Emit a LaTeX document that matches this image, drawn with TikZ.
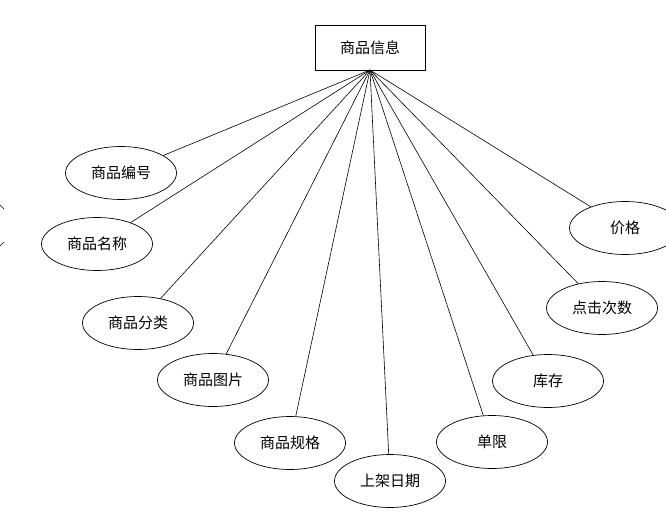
\documentclass[tikz,border=0pt]{standalone}
\usepackage{fontspec}
\setmainfont{Noto Sans CJK SC}
\usetikzlibrary{shapes.geometric}
\begin{document}
\begin{tikzpicture}[x=1pt,y=-1pt,
  attr/.style={draw, ellipse, line width=0.7pt, minimum width=111pt, minimum height=53pt, inner sep=0pt, font=\fontsize{15}{18}\selectfont},
  ent/.style={draw, rectangle, line width=0.7pt, minimum width=110pt, minimum height=45pt, inner sep=0pt, font=\fontsize{15}{18}\selectfont},
  link/.style={line width=0.6pt}]
\useasboundingbox (0,0) rectangle (666,524);
\begin{scope}
\clip (0,0) rectangle (666,524);
\node[ent] (top) at (370,47.5) {商品信息};
\coordinate (hub) at (370,70);
\node[attr] (a1) at (121,173) {商品编号};
\node[attr] (a2) at (97,244) {商品名称};
\node[attr] (a3) at (138,323) {商品分类};
\node[attr] (a4) at (213,380) {商品图片};
\node[attr] (a5) at (290,443) {商品规格};
\node[attr] (a6) at (390,481) {上架日期};
\node[attr] (a7) at (492,442) {单限};
\node[attr] (a8) at (548,381) {库存};
\node[attr] (a9) at (602,308) {点击次数};
\node[attr] (a10) at (625,228) {价格};
\foreach \n in {a1,a2,a3,a4,a5,a6,a7,a8,a9,a10}
  \draw[link] (hub) -- (\n);
\draw[line width=0.6pt] (0,205) -- (4,209);
\draw[line width=0.6pt] (0,246) -- (4,242);
\end{scope}
\end{tikzpicture}
\end{document}
